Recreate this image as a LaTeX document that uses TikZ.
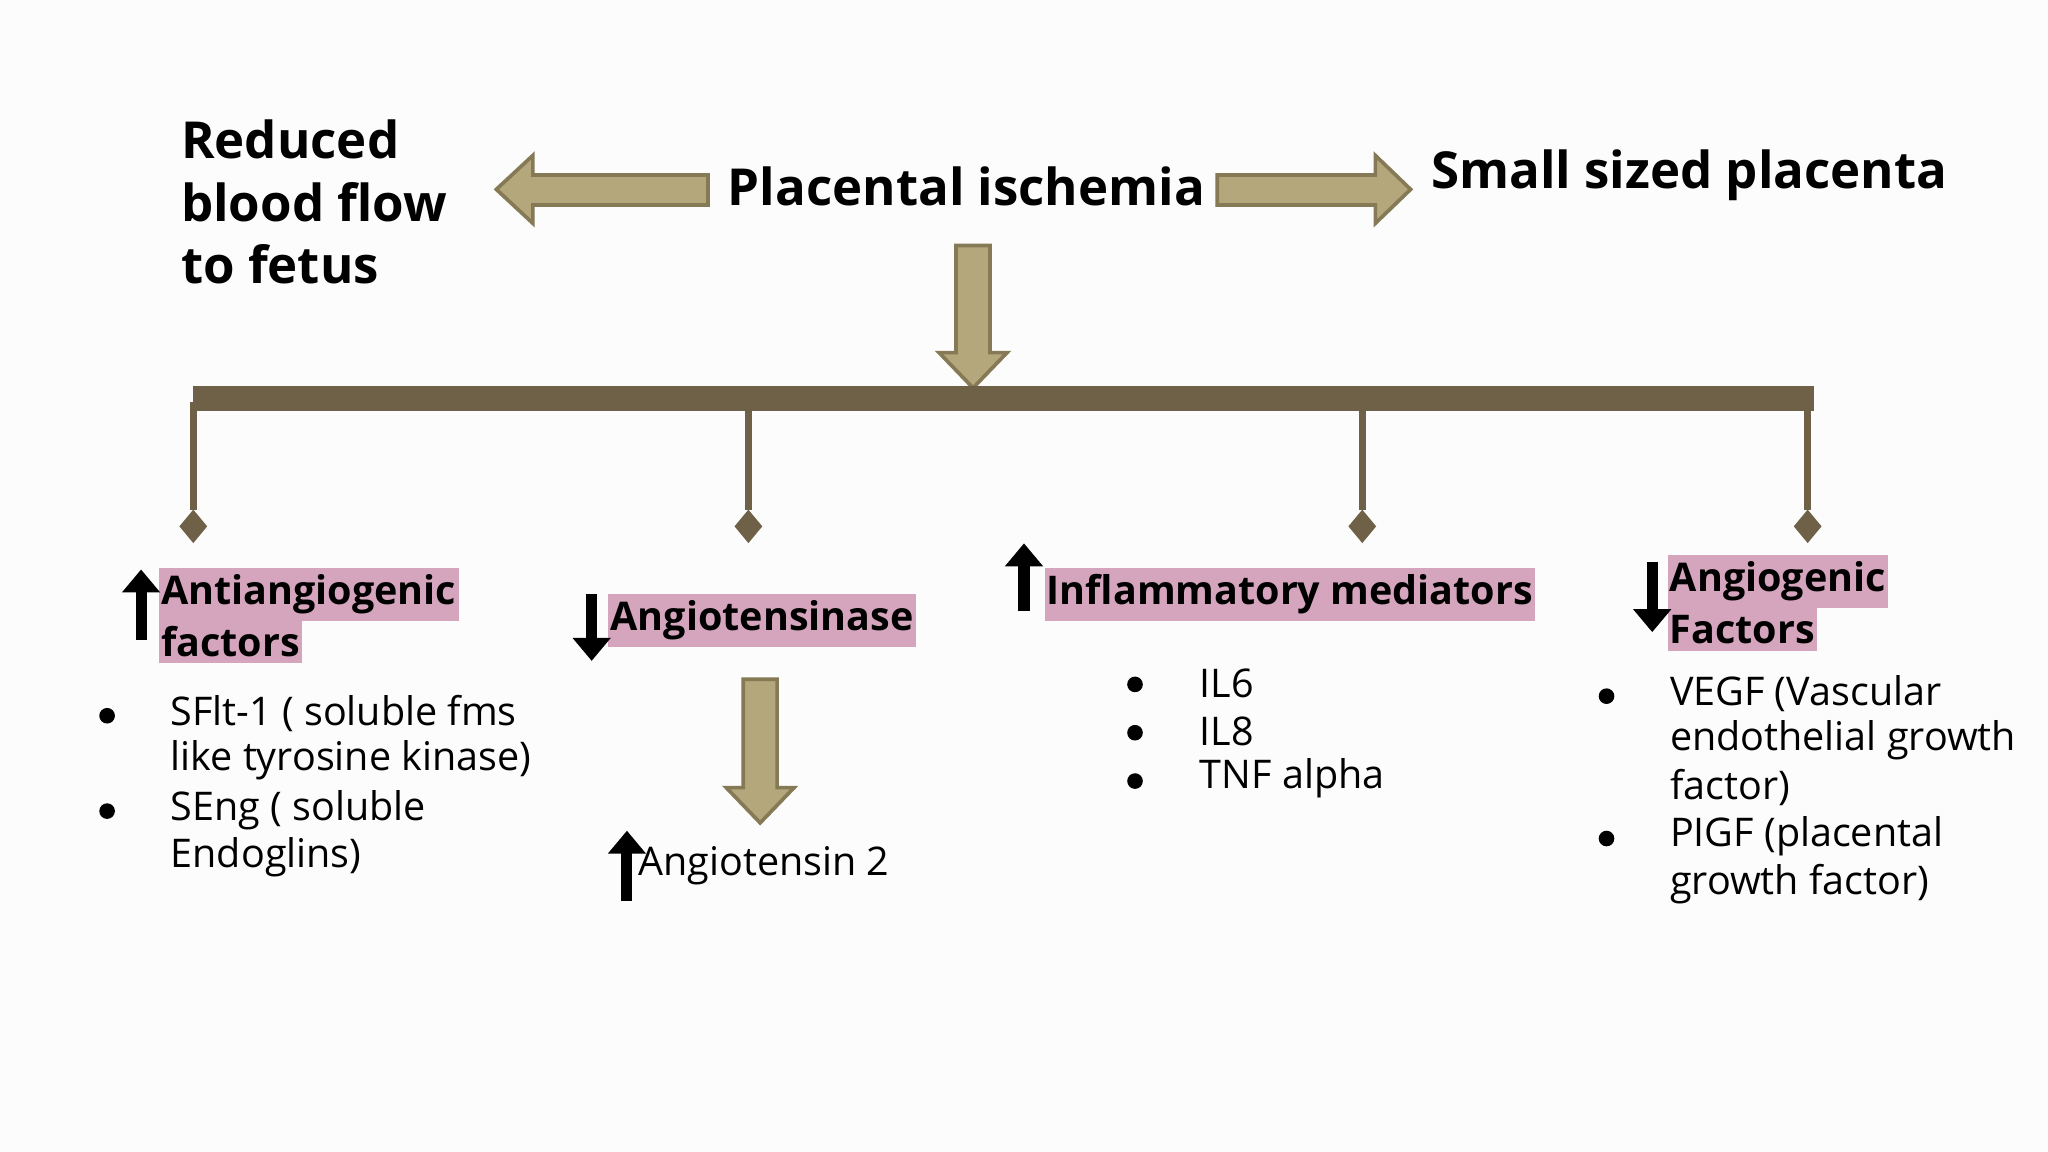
\documentclass[tikz,border=0pt]{standalone}
\usepackage{fontspec}
\setmainfont{Open Sans}
\usetikzlibrary{arrows.meta,shapes.geometric}
\definecolor{tanf}{HTML}{B3A77B}
\definecolor{tand}{HTML}{857A55}
\definecolor{barc}{HTML}{6E6148}
\definecolor{pinkh}{HTML}{D4A5BC}
\tikzset{
 big/.style={font=\fontsize{11.1}{13}\selectfont\bfseries, anchor=west, inner sep=0},
 hl/.style={font=\fontsize{8.6}{10}\selectfont\bfseries, anchor=west, fill=pinkh, inner xsep=0.5pt, inner ysep=1.5pt},
 body/.style={font=\fontsize{8.6}{10}\selectfont, anchor=west, inner sep=0},
 bul/.style={circle, fill=black, inner sep=0, minimum size=3.4pt},
 fat/.style={draw=tand, fill=tanf, line width=0.8pt, line join=miter},
 blk/.style={line width=2.4pt, -{Triangle[length=5pt,width=8pt]}},
 drop/.style={draw=barc, line width=1.6pt},
 dia/.style={fill=barc, draw=barc, diamond, inner sep=0, minimum width=0.2cm, minimum height=0.24cm}
}
\begin{document}
\begin{tikzpicture}[x=0.01cm,y=-0.01cm]
\fill[white!98!gray] (0,0) rectangle (1568,882);
\useasboundingbox (0,0) rectangle (1568,882);
% top texts
\node[big] (r1) at (138,107) {Reduced};
\node[big] (r2) at (138,155) {blood flow};
\node[big] (r3) at (138,202) {to fetus};
\node[big,anchor=center] (pi) at (740,143) {Placental ischemia};
\node[big] (sp) at (1095,134) {Small sized placenta};
% fat arrows
\draw[fat] (542,134) -- (408,134) -- (408,119) -- (380,145) -- (408,171) -- (408,157) -- (542,157) -- cycle;
\draw[fat] (932,134) -- (1053,134) -- (1053,119) -- (1080,145) -- (1053,171) -- (1053,157) -- (932,157) -- cycle;
\draw[fat] (732,188) -- (732,270) -- (719,270) -- (745,297) -- (771,270) -- (758,270) -- (758,188) -- cycle;
\draw[fat] (569,520) -- (569,603) -- (556,603) -- (582,630) -- (608,603) -- (595,603) -- (595,520) -- cycle;
% bar
\coordinate (b1) at (148,305); \coordinate (b2) at (1389,305);
\draw[barc, line width=5.5pt] (b1) -- (b2);
\foreach \x/\n in {148/d1,573/d2,1043/d3,1384/d4}{
  \node[dia] (\n) at (\x,403) {};
  \draw[drop] (\x,308) -- (\n.north);
}
% labels
\node[hl] (h1) at (121,455) {Antiangiogenic};
\node[hl] (h1b) at (121,491) {factors};
\coordinate (u1s) at (108,490); \coordinate (u1e) at (108,436);
\draw[blk] (u1s) -- (u1e);
\node[hl] (h2) at (465,475) {Angiotensinase};
\coordinate (u2s) at (453,455); \coordinate (u2e) at (453,506);
\draw[blk] (u2s) -- (u2e);
\node[hl] (h3) at (799,455) {Inflammatory mediators};
\coordinate (u3s) at (784,468); \coordinate (u3e) at (784,416);
\draw[blk] (u3s) -- (u3e);
\node[hl] (h4) at (1276,445) {Angiogenic};
\node[hl] (h4b) at (1276,482) {Factors};
\coordinate (u4s) at (1265,430); \coordinate (u4e) at (1265,484);
\draw[blk] (u4s) -- (u4e);
\node[body] (an2) at (488,663) {Angiotensin 2};
\coordinate (u5s) at (480,690); \coordinate (u5e) at (480,636);
\draw[blk] (u5s) -- (u5e);
% left bullets
\node[bul] (lb1) at (82,548) {};
\node[body] (l1) at (130,546) {SFlt-1 ( soluble fms};
\node[body] (l2) at (130,582) {like tyrosine kinase)};
\node[bul] (lb2) at (82,621) {};
\node[body] (l3) at (130,620) {SEng ( soluble};
\node[body] (l4) at (130,656) {Endoglins)};
% middle bullets
\node[bul] (mb1) at (869,524) {};
\node[body] (m1) at (918,523) {IL6};
\node[bul] (mb2) at (869,561) {};
\node[body] (m2) at (918,560) {IL8};
\node[bul] (mb3) at (869,598) {};
\node[body] (m3) at (918,596) {TNF alpha};
% right bullets
\node[bul] (rb1) at (1230,533) {};
\node[body] (q1) at (1278,531) {VEGF (Vascular};
\node[body] (q2) at (1278,567) {endothelial growth};
\node[body] (q3) at (1278,603) {factor)};
\node[bul] (rb2) at (1230,642) {};
\node[body] (q4) at (1278,640) {PIGF (placental};
\node[body] (q5) at (1278,677) {growth factor)};
\end{tikzpicture}
\end{document}
